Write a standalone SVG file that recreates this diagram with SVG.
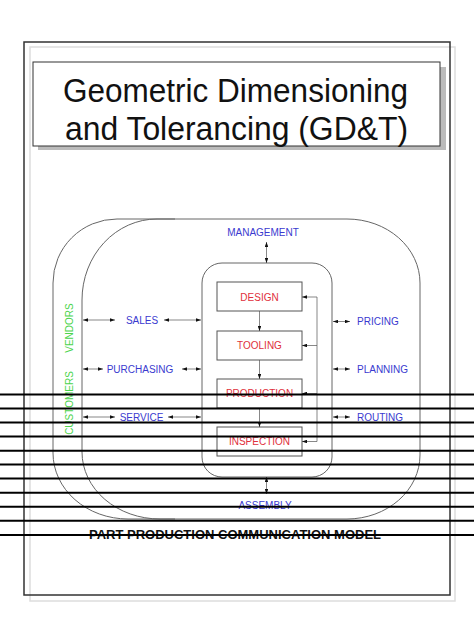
<svg xmlns="http://www.w3.org/2000/svg" width="474" height="632" viewBox="0 0 474 632">
<style>
.frame{fill:none;stroke:#333;stroke-width:1.5}
.shade{fill:none;stroke:#ddd;stroke-width:1.5}
.shape{fill:none;stroke:#666;stroke-width:1}
.box{fill:#fff;stroke:#555;stroke-width:1}
.conn{fill:none;stroke:#555;stroke-width:0.7}
.lbl{font-family:"Liberation Sans",Arial,sans-serif;font-size:10px}
.blue{fill:#3a3acf}
.red{fill:#e0303c}
.green{fill:#4cd44c}
.title{font-family:"Liberation Sans",Arial,sans-serif;font-size:33px;fill:#111}
.cap{font-family:"Liberation Sans",Arial,sans-serif;font-size:13px;font-weight:bold;fill:#111}
.bar{stroke:#000;stroke-width:2}
</style>
<defs>
<marker id="ah" viewBox="0 0 10 10" refX="10" refY="5" markerWidth="5" markerHeight="3.5" markerUnits="userSpaceOnUse" preserveAspectRatio="none" orient="auto-start-reverse">
<path d="M0,0 L10,5 L0,10 z" fill="#111"/>
</marker>
</defs>
<rect width="474" height="632" fill="#fff"/>
<g id="page-frame">
<rect class="shade" x="30" y="47" width="425" height="554"/>
<rect class="frame" x="24" y="42" width="426" height="553" fill="#fff"/>
</g>
<g id="title">
<rect x="38" y="67" width="408" height="83" fill="#bbb"/>
<rect x="33" y="62" width="407" height="84" fill="#fff" stroke="#333" stroke-width="1"/>
<text class="title" x="63" y="101.5" textLength="345" lengthAdjust="spacingAndGlyphs">Geometric Dimensioning</text>
<text class="title" x="65" y="139.5" textLength="343" lengthAdjust="spacingAndGlyphs">and Tolerancing (GD&amp;T)</text>
</g>
<g id="outer-shapes">
<path class="shape" d="M117,219 H347 A73,64 0 0 1 420,283 V455 A73,64 0 0 1 347,519 H128 A75,66 0 0 1 53,453 V283 A64,64 0 0 1 117,219 Z"/>
<path class="shape" d="M175,219 H157 A75,81 0 0 0 82,300 V452 A78,67 0 0 0 160,519 H175"/>
<rect class="shape" x="202" y="263" width="130" height="214" rx="20" ry="20"/>
</g>
<g id="design"><rect class="box" x="217" y="282" width="85" height="29"/><text class="lbl red" x="259.5" y="300.6" text-anchor="middle">DESIGN</text></g>
<g id="tooling"><rect class="box" x="217" y="331" width="85" height="29"/><text class="lbl red" x="259.5" y="348.6" text-anchor="middle">TOOLING</text></g>
<g id="production"><rect class="box" x="217" y="379" width="85" height="29"/><text class="lbl red" x="259.5" y="397" text-anchor="middle">PRODUCTION</text></g>
<g id="inspection"><rect class="box" x="217" y="427" width="85" height="29"/><text class="lbl red" x="259.5" y="445" text-anchor="middle">INSPECTION</text></g>
<g id="management"><text class="lbl blue" x="263" y="236" text-anchor="middle">MANAGEMENT</text></g>
<g id="assembly"><text class="lbl blue" x="265" y="509" text-anchor="middle">ASSEMBLY</text></g>
<g id="sales"><text class="lbl blue" x="142" y="323.6" text-anchor="middle">SALES</text></g>
<g id="purchasing"><text class="lbl blue" x="140" y="372.6" text-anchor="middle">PURCHASING</text></g>
<g id="service"><text class="lbl blue" x="141.5" y="420.6" text-anchor="middle">SERVICE</text></g>
<g id="pricing"><text class="lbl blue" x="357" y="325.2">PRICING</text></g>
<g id="planning"><text class="lbl blue" x="357" y="372.6">PLANNING</text></g>
<g id="routing"><text class="lbl blue" x="357" y="420.6">ROUTING</text></g>
<g id="vendors"><text class="lbl green" transform="translate(72.6,328) rotate(-90)" text-anchor="middle">VENDORS</text></g>
<g id="customers"><text class="lbl green" transform="translate(72.6,403) rotate(-90)" text-anchor="middle">CUSTOMERS</text></g>
<g id="connectors">
<line class="conn" x1="259.5" y1="311" x2="259.5" y2="331" marker-end="url(#ah)"/>
<line class="conn" x1="259.5" y1="360" x2="259.5" y2="379" marker-end="url(#ah)"/>
<line class="conn" x1="259.5" y1="408" x2="259.5" y2="427" marker-end="url(#ah)"/>
<line class="conn" x1="317" y1="297" x2="317" y2="441.5"/>
<line class="conn" x1="317" y1="297" x2="302" y2="297" marker-end="url(#ah)"/>
<line class="conn" x1="317" y1="345.5" x2="302" y2="345.5" marker-end="url(#ah)"/>
<line class="conn" x1="317" y1="393.5" x2="302" y2="393.5" marker-end="url(#ah)"/>
<line class="conn" x1="317" y1="441.5" x2="302" y2="441.5" marker-end="url(#ah)"/>
<line class="conn" x1="266.5" y1="242" x2="266.5" y2="263" marker-start="url(#ah)" marker-end="url(#ah)"/>
<line class="conn" x1="266.5" y1="477" x2="266.5" y2="494" marker-start="url(#ah)" marker-end="url(#ah)"/>
<line class="conn" x1="83" y1="320" x2="115" y2="320" marker-start="url(#ah)" marker-end="url(#ah)"/>
<line class="conn" x1="164" y1="320" x2="201" y2="320" marker-start="url(#ah)" marker-end="url(#ah)"/>
<line class="conn" x1="83" y1="369" x2="103" y2="369" marker-start="url(#ah)" marker-end="url(#ah)"/>
<line class="conn" x1="182" y1="369" x2="201" y2="369" marker-start="url(#ah)" marker-end="url(#ah)"/>
<line class="conn" x1="83" y1="417" x2="115" y2="417" marker-start="url(#ah)" marker-end="url(#ah)"/>
<line class="conn" x1="168" y1="417" x2="201" y2="417" marker-start="url(#ah)" marker-end="url(#ah)"/>
<line class="conn" x1="333" y1="321.5" x2="350" y2="321.5" marker-start="url(#ah)" marker-end="url(#ah)"/>
<line class="conn" x1="333" y1="369" x2="350" y2="369" marker-start="url(#ah)" marker-end="url(#ah)"/>
<line class="conn" x1="333" y1="417" x2="350" y2="417" marker-start="url(#ah)" marker-end="url(#ah)"/>
</g>
<g id="caption"><text class="cap" x="235" y="539.3" text-anchor="middle">PART PRODUCTION COMMUNICATION MODEL</text></g>
<g id="rules">
<line class="bar" x1="0" y1="394.5" x2="474" y2="394.5"/>
<line class="bar" x1="0" y1="408.5" x2="474" y2="408.5"/>
<line class="bar" x1="0" y1="422.5" x2="474" y2="422.5"/>
<line class="bar" x1="0" y1="436.6" x2="474" y2="436.6"/>
<line class="bar" x1="0" y1="450.7" x2="474" y2="450.7"/>
<line class="bar" x1="0" y1="464.6" x2="474" y2="464.6"/>
<line class="bar" x1="0" y1="478.6" x2="474" y2="478.6"/>
<line class="bar" x1="0" y1="492.7" x2="474" y2="492.7"/>
<line class="bar" x1="0" y1="506.7" x2="474" y2="506.7"/>
<line class="bar" x1="0" y1="520.8" x2="474" y2="520.8"/>
<line class="bar" x1="0" y1="535" x2="474" y2="535"/>
</g>
</svg>
